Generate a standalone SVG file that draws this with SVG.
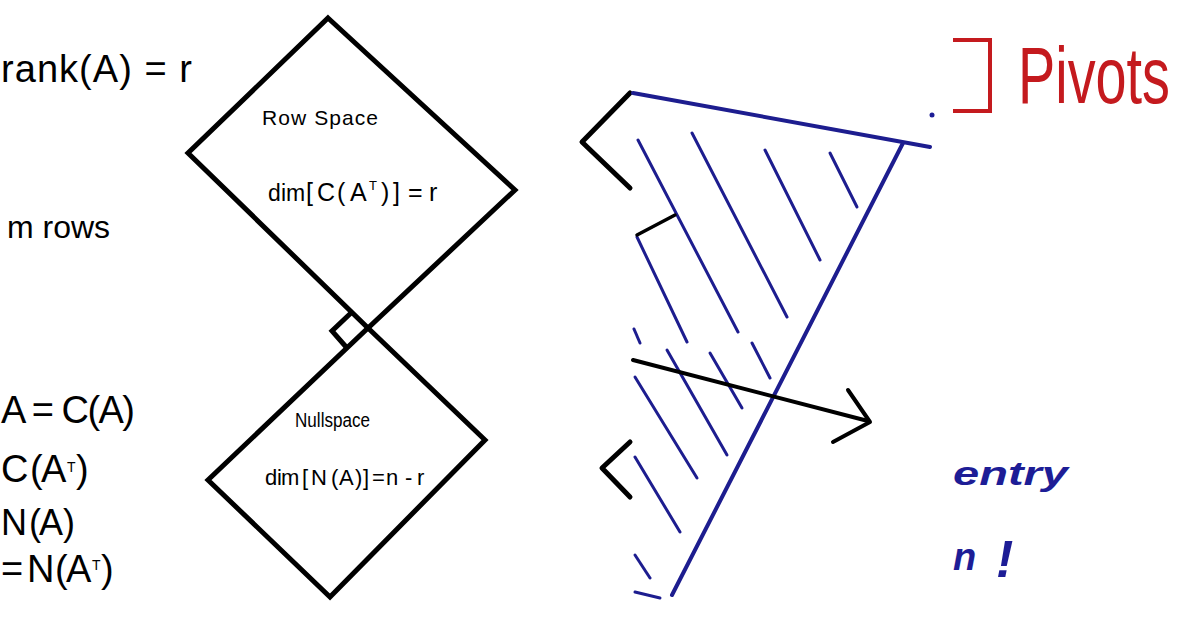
<svg xmlns="http://www.w3.org/2000/svg" width="1200" height="630" viewBox="0 0 1200 630">
  <style>
    .hand { font-family: "Liberation Sans", Arial, sans-serif; fill: #000; }
    .sq { fill: none; stroke: #000; stroke-width: 5; stroke-linejoin: miter; }
    .blk { fill: none; stroke: #000; stroke-linecap: round; stroke-linejoin: round; }
    .blu { fill: none; stroke: #1d1d8f; stroke-linecap: round; }
    .bluetext { font-family: "Liberation Sans", Arial, sans-serif; fill: #1d1d96; font-weight: bold; font-style: italic; }
    .red { font-family: "Liberation Sans", Arial, sans-serif; fill: #c41a1e; }
  </style>
  <rect width="1200" height="630" fill="#fff"/>

  <!-- left column of equations -->
  <g id="equations">
    <text class="hand" x="1" y="82" font-size="38" textLength="191">rank(A) = r</text>
    <text class="hand" x="7" y="238" font-size="32" textLength="103">m rows</text>
    <text class="hand" x="1" y="423" font-size="38" textLength="134">A = C(A)</text>
    <text class="hand" y="482" font-size="38"><tspan x="1">C</tspan><tspan x="30">(</tspan><tspan x="41">A</tspan><tspan x="67" y="472" font-size="14">T</tspan><tspan x="76" y="482">)</tspan></text>
    <text class="hand" y="535" font-size="36"><tspan x="1">N</tspan><tspan x="29">(</tspan><tspan x="39">A</tspan><tspan x="63">)</tspan></text>
    <text class="hand" y="582" font-size="38"><tspan x="1">=</tspan><tspan x="27">N</tspan><tspan x="55">(</tspan><tspan x="66">A</tspan><tspan x="92" y="570" font-size="14">T</tspan><tspan x="101" y="582">)</tspan></text>
  </g>

  <!-- Row Space node -->
  <g id="row-space">
    <polygon class="sq" points="328,18 515,190 368,328 188,153"/>
    <text class="hand" x="262" y="125" font-size="21" textLength="116">Row Space</text>
    <text class="hand" y="201" font-size="25"><tspan x="268" font-size="23">d</tspan><tspan x="281" font-size="23">i</tspan><tspan x="286" font-size="23">m</tspan><tspan x="306">[</tspan><tspan x="317">C</tspan><tspan x="337">(</tspan><tspan x="350">A</tspan><tspan x="369" y="190" font-size="13">T</tspan><tspan x="381" y="201">)</tspan><tspan x="393">]</tspan><tspan x="408">=</tspan><tspan x="429">r</tspan></text>
  </g>

  <!-- Nullspace node -->
  <g id="nullspace">
    <polygon class="sq" points="368,328 485,440 330,597 208,480"/>
    <text class="hand" x="295" y="427" font-size="20" textLength="75" lengthAdjust="spacingAndGlyphs">Nullspace</text>
    <text class="hand" y="485" font-size="22"><tspan x="265">d</tspan><tspan x="277">i</tspan><tspan x="281">m</tspan><tspan x="302">[</tspan><tspan x="311">N</tspan><tspan x="331">(</tspan><tspan x="339">A</tspan><tspan x="355">)</tspan><tspan x="363">]</tspan><tspan x="372">=</tspan><tspan x="386">n</tspan><tspan x="405">-</tspan><tspan x="417">r</tspan></text>
  </g>

  <!-- connectors -->
  <g id="connectors">
    <polyline class="sq" points="352,312 332,331 347,348" stroke-width="4.5"/>
  </g>

  <!-- middle sketch -->
  <g id="middle-sketch">
    <polyline class="blk" points="630,93 582,142 630,188" stroke-width="5" stroke-linecap="butt"/>
    <polyline class="blk" points="630,442 602,468 630,497" stroke-width="5" stroke-linecap="butt"/>
    <line class="blu" x1="633" y1="93" x2="930" y2="147" stroke-width="4"/>
    <line class="blu" x1="903" y1="143" x2="672" y2="595" stroke-width="4"/>
    <g stroke-width="3">
      <line class="blu" x1="638" y1="140" x2="738" y2="332"/>
      <line class="blu" x1="692" y1="133" x2="787" y2="317"/>
      <line class="blu" x1="765" y1="150" x2="820" y2="260"/>
      <line class="blu" x1="830" y1="153" x2="857" y2="207"/>
      <line class="blu" x1="637" y1="237" x2="687" y2="342"/>
      <line class="blu" x1="634" y1="329" x2="640" y2="343"/>
      <line class="blu" x1="667" y1="350" x2="727" y2="455"/>
      <line class="blu" x1="710" y1="353" x2="742" y2="408"/>
      <line class="blu" x1="752" y1="343" x2="770" y2="378"/>
      <line class="blu" x1="635" y1="377" x2="697" y2="478"/>
      <line class="blu" x1="635" y1="457" x2="680" y2="532"/>
      <line class="blu" x1="635" y1="555" x2="650" y2="578"/>
      <line class="blu" x1="635" y1="592" x2="660" y2="598"/>
    </g>
    <line class="blk" x1="675" y1="215" x2="637" y2="235" stroke-width="3.5"/>
    <line class="blk" x1="633" y1="360" x2="868" y2="421" stroke-width="4"/>
    <polyline class="blk" points="848,390 870,422 833,442" stroke-width="4"/>
  </g>

  <!-- right sketch -->
  <g id="right-sketch">
    <polyline points="953,40 990,40 990,111 953,111" fill="none" stroke="#c41a1e" stroke-width="4"/>
    <text class="red" transform="translate(1018,103) scale(1,1.2)" x="0" y="0" font-size="66" textLength="152" lengthAdjust="spacingAndGlyphs">Pivots</text>
    <circle cx="932" cy="115" r="2.5" fill="#1d1d96"/>
    <text class="bluetext" x="953" y="485" font-size="34" textLength="115" lengthAdjust="spacingAndGlyphs">entry</text>
    <text class="bluetext" y="570" font-size="38"><tspan x="953">n</tspan><tspan x="996" y="577" font-size="52">!</tspan></text>
  </g>
</svg>
